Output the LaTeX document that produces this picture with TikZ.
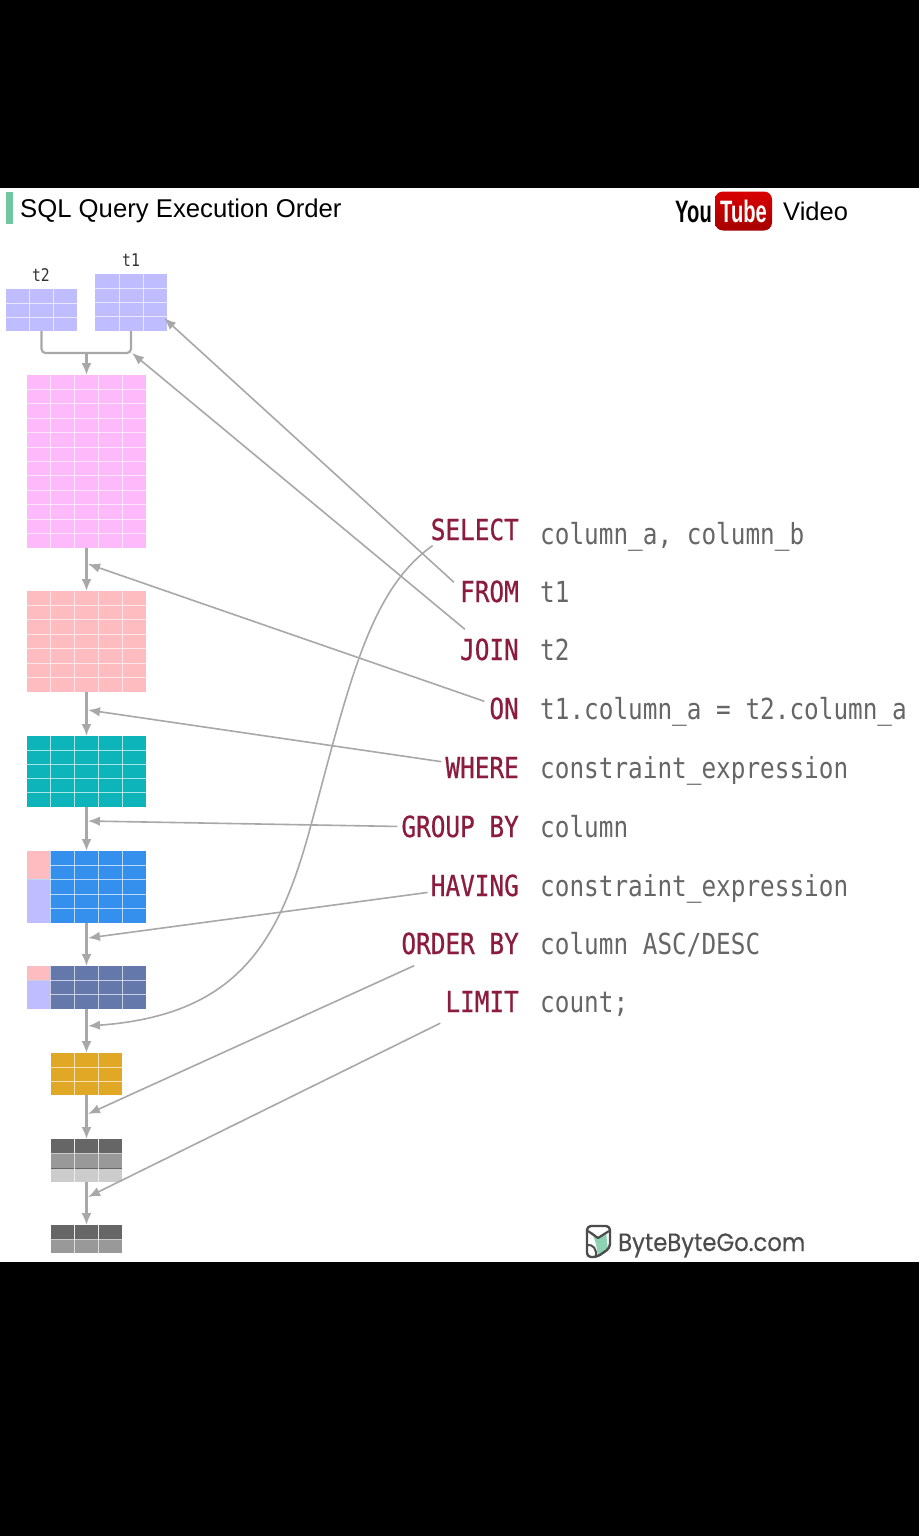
\documentclass[tikz,border=0pt]{standalone}
\usepackage{fontspec}
\setmainfont{Liberation Sans}
\newfontfamily\sqlfont[FakeStretch=0.84]{DejaVu Sans Mono}
\newfontfamily\kwfont[FakeStretch=0.84,FakeBold=0.7]{DejaVu Sans Mono}
\newfontfamily\tubefont[FakeStretch=0.65]{Liberation Sans}
\newfontfamily\brandfont[FakeStretch=0.91,FakeBold=0.4]{Poppins}
\usetikzlibrary{arrows.meta,calc}
\definecolor{headcol}{HTML}{6FC7A0}
\definecolor{lavcol}{HTML}{BFBCFF}
\definecolor{pinkcol}{HTML}{FDB9F9}
\definecolor{redcol}{HTML}{FFBCC0}
\definecolor{tealcol}{HTML}{0DB5BA}
\definecolor{bluecol}{HTML}{3490EC}
\definecolor{slatecol}{HTML}{6478AB}
\definecolor{goldcol}{HTML}{E0A825}
\definecolor{arrowcol}{HTML}{A8A8A8}
\definecolor{kwcol}{HTML}{8C1C3E}
\definecolor{valcol}{HTML}{666666}
\tikzset{
  tbl/.style={anchor=north west,inner sep=0pt,outer sep=0pt},
  gridline/.style={white,line width=0.9pt,opacity=0.65},
  flow/.style={arrowcol,line width=2.1pt},
  flowtip/.style={flow,-{Latex[length=12pt,width=10pt]}},
  pointer/.style={arrowcol,line width=1.6pt,-{Latex[length=12pt,width=9.5pt]}},
  sqlkw/.style={anchor=base east,inner sep=0pt,text=kwcol,font=\kwfont\fontsize{29}{29}\selectfont},
  sqlval/.style={anchor=base west,inner sep=0pt,text=valcol,font=\sqlfont\fontsize{29}{29}\selectfont},
  tname/.style={anchor=base,inner sep=0pt,text=black!80,font=\sqlfont\fontsize{17.5}{17.5}\selectfont},
}
% name, left, top, width, height, columns, rows, colour
\newcommand{\gridtbl}[8]{
  \node[tbl,fill=#8,minimum width=#4pt,minimum height=#5pt] (#1) at (#2,#3) {};
  \foreach \i in {1,...,#6}
    \draw[gridline] ($(#1.north west)!{\i/#6}!(#1.north east)$)--($(#1.south west)!{\i/#6}!(#1.south east)$);
  \foreach \j in {1,...,#7}
    \draw[gridline] ($(#1.north west)!{\j/#7}!(#1.south west)$)--($(#1.north east)!{\j/#7}!(#1.south east)$);
}
\begin{document}
\begin{tikzpicture}[x=1pt,y=-1pt]
\fill[black](0,0)rectangle(919,1536);
\fill[white](0,187.5)rectangle(919,1262);
\useasboundingbox (0,0) rectangle (919,1536);
% heading
\fill[headcol](6,192)rectangle(13,224);
\node[anchor=base west,inner sep=0pt,font=\fontsize{25.7}{25.7}\selectfont] (title) at (20,217.5) {SQL Query Execution Order};
\node[anchor=base east,inner sep=0pt,font=\tubefont\bfseries\fontsize{31}{31}\selectfont] (you) at (712,222) {You};
\node[anchor=center,inner sep=0pt,minimum width=57pt,minimum height=39pt,rounded corners=8pt,top color=red!85!black,bottom color=red!65!black,text=white,font=\tubefont\bfseries\fontsize{31}{31}\selectfont] (tube) at (743.5,211) {Tube};
\node[anchor=base west,inner sep=0pt,font=\fontsize{25.5}{25.5}\selectfont] (video) at (783,220) {Video};
% tables
\gridtbl{tb}{6}{289}{71}{42}{3}{3}{lavcol}
\gridtbl{ta}{95}{274}{72}{57}{3}{4}{lavcol}
\gridtbl{joined}{27}{375}{119}{173}{5}{12}{pinkcol}
\gridtbl{matched}{27}{591}{119}{101}{5}{7}{redcol}
\gridtbl{filtered}{27}{736}{119}{71}{5}{5}{tealcol}
\gridtbl{grouped}{27}{851}{119}{72}{5}{5}{bluecol}
\fill[redcol](27,851)rectangle(50,879);
\fill[lavcol](27,880)rectangle(50,923);
\gridtbl{having}{27}{966}{119}{43}{5}{3}{slatecol}
\fill[redcol](27,966)rectangle(50,980);
\fill[lavcol](27,981)rectangle(50,1009);
\gridtbl{picked}{51}{1053}{71}{42}{3}{3}{goldcol}
\gridtbl{sorted}{51}{1139}{71}{43}{3}{3}{black!60}
\fill[black!40](51,1153.5)rectangle(122,1167.5);
\fill[black!20](51,1168.5)rectangle(122,1182);
\foreach \i in {1,2}\draw[gridline]($(sorted.north west)!{\i/3}!(sorted.north east)$)--($(sorted.south west)!{\i/3}!(sorted.south east)$);
\gridtbl{limited}{51}{1225}{71}{28}{3}{2}{black!60}
\fill[black!40](51,1239.5)rectangle(122,1253);
\foreach \i in {1,2}\draw[gridline]($(limited.north west)!{\i/3}!(limited.north east)$)--($(limited.south west)!{\i/3}!(limited.south east)$);
\node[tname] (namet2) at (41,281) {t2};
\node[tname] (namet1) at (131,266) {t1};
% query text
\foreach \nm/\kw/\vl/\yk/\yv in {select/SELECT/{column\_a, column\_b}/540/544,from/FROM/t1/602/602,join/JOIN/t2/660/660,on/ON/{t1.column\_a = t2.column\_a}/719/719,where/WHERE/constraint\_expression/778/778,group/GROUP BY/column/837/837,have/HAVING/constraint\_expression/896/896,order/ORDER BY/{column ASC/DESC}/954/954,limit/LIMIT/count;/1012/1012}{
  \node[sqlkw] (kw\nm) at (519,\yk) {\kw};
  \node[sqlval] (val\nm) at (540,\yv) {\vl};
}
% flow down the tables
\coordinate (jn) at (86.5,353);
\draw[flow,rounded corners=4pt](tb.south)|-(jn)-|(ta.south);
\draw[flowtip](jn)--(joined.north);
\draw[flowtip](joined)--(matched);
\draw[flowtip](matched)--(filtered);
\draw[flowtip](filtered)--(grouped);
\draw[flowtip](grouped)--(having);
\draw[flowtip](having)--(picked);
\draw[flowtip](picked)--(sorted);
\draw[flowtip](sorted)--(limited);
% pointers from the clauses
\coordinate (hfrom) at (164,318);
\coordinate (hjoin) at (132,353);
\coordinate (hon) at (88,564);
\coordinate (hwhere) at (88,710);
\coordinate (hgroup) at (88,821);
\coordinate (hhave) at (88,938);
\coordinate (hselect) at (88,1026);
\coordinate (horder) at (88,1114);
\coordinate (hlimit) at (88,1197);
\draw[pointer]([shift={(-6pt,-2pt)}]kwfrom.north west)--(hfrom);
\draw[pointer]([shift={(5pt,9pt)}]kwjoin.north west)--(hjoin);
\draw[pointer]([shift={(-5pt,-4pt)}]kwon.north west)--(hon);
\draw[pointer]([shift={(-4pt,-5pt)}]kwwhere.north west)--(hwhere);
\draw[pointer]([xshift=-4pt]kwgroup.west)--(hgroup);
\draw[pointer]([shift={(-3pt,-7pt)}]kwhave.west)--(hhave);
\draw[pointer]([shift={(13pt,-11pt)}]kworder.south west)--(horder);
\draw[pointer]([shift={(-5pt,-11pt)}]kwlimit.south west)--(hlimit);
\draw[pointer]([shift={(2pt,-5pt)}]kwselect.south west) .. controls (370,590) and (350,680) .. (311,825) .. controls (280,940) and (240,1015) .. (hselect);
% brand
\fill[headcol!80](592,1232)--(598,1237)--(606,1232)--(608,1250)--(598,1256)--(596,1244)--cycle;
\draw[black!70,line width=2.4pt,line join=round,rounded corners=4pt](587,1226)--(610,1226)--(610,1248)--(597,1257)--(587,1257)--cycle;
\draw[black!70,line width=2.2pt,line join=round](588,1231)--(598,1238)--(609,1231);
\draw[black!70,line width=2pt](587,1245)..controls (593,1244) and (597,1249) .. (596,1257);
\node[anchor=base west,inner sep=0pt,text=black!70,font=\brandfont\fontsize{25}{25}\selectfont] (brand) at (618,1251) {ByteByteGo.com};
\end{tikzpicture}
\end{document}
